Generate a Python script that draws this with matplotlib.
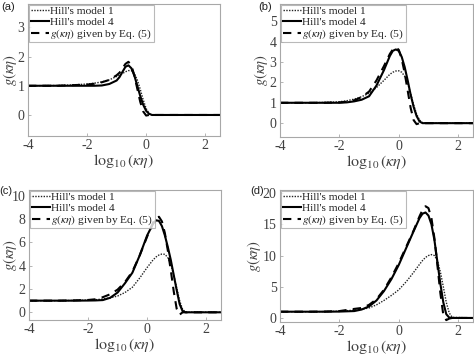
import matplotlib
matplotlib.use("Agg")
import matplotlib.pyplot as plt

plt.rcParams['font.family'] = ['Liberation Serif', 'DejaVu Serif']
plt.rcParams['mathtext.fontset'] = 'stix'
plt.rcParams['axes.unicode_minus'] = False

# ---- data ----
xa = [-4, -3, -2.5, -2, -1.75, -1.5, -1.25, -1, -0.9, -0.8, -0.7, -0.6, -0.5, -0.4, -0.3, -0.2, -0.1, 0, 0.1, 0.2, 0.3, 2.5]
a_m1 = [1, 1.01, 1.03, 1.06, 1.09, 1.13, 1.2, 1.32, 1.37, 1.42, 1.48, 1.52, 1.52, 1.42, 1.2, 0.88, 0.52, 0.22, 0.05, 0.0, 0, 0]
a_m4 = [1, 1, 1, 1, 1, 1.01, 1.06, 1.18, 1.3, 1.48, 1.65, 1.7, 1.6, 1.35, 1.0, 0.65, 0.35, 0.14, 0.04, 0.0, 0, 0]
a_eq5 = [1, 1.0, 1.02, 1.04, 1.07, 1.12, 1.2, 1.36, 1.45, 1.6, 1.75, 1.82, 1.7, 1.35, 0.9, 0.45, 0.12, -0.02, 0, 0, 0, 0]

xb = [-4, -3, -2.5, -2, -1.75, -1.5, -1.25, -1, -0.75, -0.5, -0.4, -0.3, -0.2, -0.1, 0, 0.1, 0.2, 0.3, 0.4, 0.5, 0.6, 0.7, 0.8, 0.9, 2.5]
b_m1 = [1, 1.0, 1.02, 1.05, 1.1, 1.18, 1.3, 1.47, 1.75, 2.1, 2.25, 2.4, 2.5, 2.56, 2.57, 2.5, 2.3, 1.95, 1.45, 0.9, 0.45, 0.15, 0.02, 0, 0]
b_m4 = [1, 1, 1, 1, 1.02, 1.07, 1.15, 1.32, 1.85, 2.6, 2.95, 3.3, 3.55, 3.62, 3.55, 3.25, 2.75, 2.1, 1.4, 0.8, 0.35, 0.08, 0, 0, 0]
b_eq5 = [1, 1, 1.0, 1.02, 1.05, 1.12, 1.28, 1.55, 2.1, 2.8, 3.1, 3.4, 3.62, 3.72, 3.6, 3.15, 2.45, 1.6, 0.75, 0.15, -0.05, 0, 0, 0, 0]

xc = [-4, -3, -2.5, -2, -1.75, -1.5, -1.25, -1, -0.75, -0.5, -0.25, 0, 0.2, 0.3, 0.4, 0.5, 0.6, 0.7, 0.8, 0.9, 1.0, 1.1, 1.2, 1.3, 2.5]
c_m1 = [1, 1.0, 1.02, 1.05, 1.08, 1.14, 1.24, 1.4, 1.7, 2.15, 2.95, 3.85, 4.5, 4.75, 4.92, 5.0, 4.98, 4.7, 4.1, 3.2, 2.1, 1.0, 0.25, 0.02, 0]
c_m4 = [1, 1, 1, 1.01, 1.02, 1.05, 1.25, 1.7, 2.5, 3.4, 4.9, 6.6, 7.6, 7.9, 7.85, 7.4, 6.6, 5.6, 4.5, 3.2, 1.9, 0.7, 0.1, 0, 0]
c_eq5 = [1, 1, 1.02, 1.06, 1.12, 1.3, 1.55, 1.95, 2.6, 3.5, 4.9, 6.5, 7.7, 8.1, 8.2, 7.8, 6.8, 5.3, 3.6, 1.8, 0.3, -0.2, 0, 0, 0]

xd = [-4, -3, -2.5, -2, -1.5, -1.25, -1, -0.75, -0.5, -0.25, 0, 0.25, 0.5, 0.7, 0.8, 0.9, 1.0, 1.1, 1.2, 1.3, 1.4, 1.5, 1.6, 1.7, 1.8, 2.5]
d_m1 = [1, 1, 1.02, 1.08, 1.25, 1.4, 1.6, 2.1, 2.8, 3.6, 4.5, 5.8, 7.3, 8.6, 9.2, 9.7, 10.0, 10.15, 10.0, 9.2, 7.4, 5.0, 2.5, 0.8, 0.1, 0]
d_m4 = [1, 1, 1, 1.02, 1.1, 1.35, 1.85, 2.8, 4.3, 6.2, 8.5, 11.2, 13.9, 16.0, 16.7, 16.9, 16.4, 15.0, 12.5, 9.0, 5.5, 2.5, 0.6, 0.05, 0, 0]
d_eq5 = [1, 1, 1.02, 1.1, 1.45, 1.6, 2.1, 3.0, 4.5, 6.5, 8.8, 11.4, 14.0, 16.3, 17.3, 17.9, 17.6, 16.0, 12.8, 8.5, 4.0, 0.5, -0.35, -0.1, 0, 0]

panel_labels = ['(a)', '(b)', '(c)', '(d)']
legend_labels = ["Hill's model 1", "Hill's model 4", r"$g(\kappa\eta)$ given by Eq. (5)"]
xticks = [-4, -2, 0, 2]
yticks_list = [[0, 1, 2, 3], [0, 1, 2, 3, 4, 5], [0, 2, 4, 6, 8, 10], [0, 5, 10, 15, 20]]
ylims = [(-0.72, 3.8), (-0.68, 5.85), (-0.66, 10.5), (-0.65, 20.5)]

panels = [(xa, a_m1, a_m4, a_eq5), (xb, b_m1, b_m4, b_eq5),
          (xc, c_m1, c_m4, c_eq5), (xd, d_m1, d_m4, d_eq5)]

W, H = 474, 357
rects = [(28, 4, 220, 136), (280, 4, 473, 137), (29, 190, 221, 320), (280, 190, 473, 322)]
ylabel_x = [19, 270, 19, 263]   # right edge of rotated y label (px)
plabel_pos = [(1, 7), (258, 7), (-1, 191), (250, 191)]

fig = plt.figure(figsize=(W / 100, H / 100), dpi=100)
gray = '#a8a8a8'
tickc = '#404040'
for i, (x, m1, m4, e5) in enumerate(panels):
    l, t, r, b = rects[i]
    ax = fig.add_axes([l / W, 1 - b / H, (r - l) / W, (b - t) / H])
    ax.plot(x, m1, color='#222222', lw=1.0, ls=(0, (1, 1)), label=legend_labels[0])
    ax.plot(x, m4, color='black', lw=1.5, ls='-', label=legend_labels[1])
    ax.plot(x, e5, color='black', lw=1.5, ls=(0, (4, 3)), label=legend_labels[2])
    ax.set_xlim(-4, 2.5)
    ax.set_ylim(*ylims[i])
    ax.set_xticks(xticks)
    ax.set_yticks(yticks_list[i])
    ax.tick_params(direction='in', length=2.5, width=0.6, color=gray,
                   labelsize=10, labelcolor=tickc, pad=2.5)
    for s in ax.spines.values():
        s.set_color(gray)
        s.set_linewidth(0.8)
    ax.set_xlabel(r'$\log_{10}(\kappa\eta)$', fontsize=11.5, color=tickc, labelpad=0)
    ax.set_ylabel(r'$g(\kappa\eta)$', fontsize=10.5, color=tickc)
    ax.yaxis.set_label_coords((ylabel_x[i] - l) / (r - l), 0.5)
    leg = ax.legend(loc='upper left', fontsize=8.2, frameon=True, fancybox=False,
                    borderaxespad=0.1, borderpad=0.12, labelspacing=0.05,
                    handlelength=1.6, handletextpad=0.15)
    leg.get_frame().set_edgecolor(gray)
    leg.get_frame().set_linewidth(0.8)
    for txt in leg.get_texts():
        txt.set_color('#222222')
    px, py = plabel_pos[i]
    fig.text(px / W, 1 - py / H, panel_labels[i], fontsize=8,
             family='Liberation Sans', color='#222222', va='center', ha='left')

fig.savefig('out.png', dpi=100)
